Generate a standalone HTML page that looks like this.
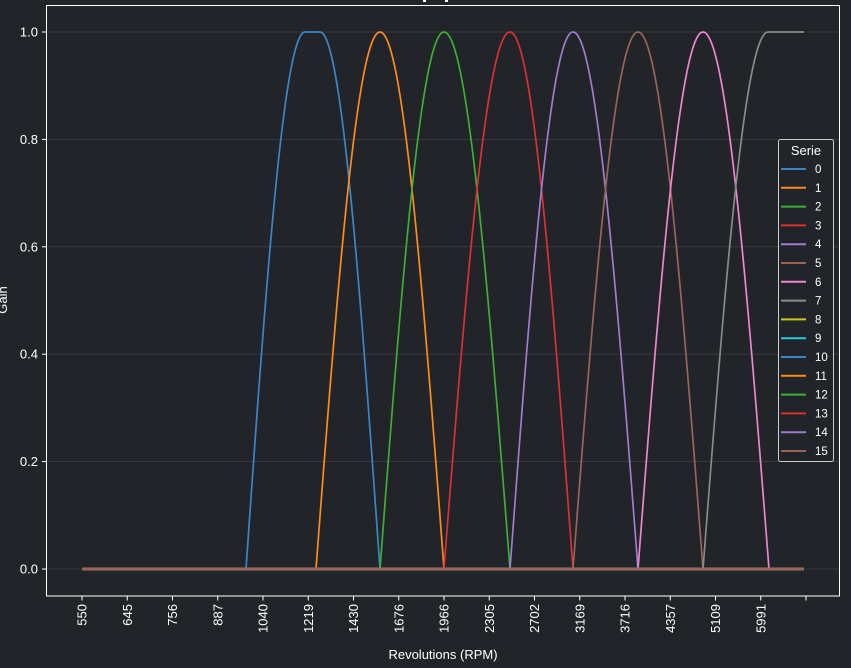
<!DOCTYPE html>
<html><head><meta charset="utf-8"><style>
html,body{margin:0;padding:0;background:#212429;}
svg{display:block;font-family:"Liberation Sans","DejaVu Sans",sans-serif;}
</style></head><body>
<svg id="s" width="851" height="668" xmlns="http://www.w3.org/2000/svg">
<rect width="851" height="668" fill="#212429"/>
<rect x="423" y="0" width="3" height="2" fill="#fff"/><rect x="445" y="0" width="3" height="2" fill="#fff"/>
<g id="grid" stroke="#3c3f44" stroke-width="0.8"></g>
<g id="curves" fill="none" stroke-width="1.7"></g>
<rect x="46.5" y="5.5" width="793" height="590.5" fill="none" stroke="#ffffff" stroke-width="1"/>
<g id="ticks" stroke="#ffffff" stroke-width="1"></g>
<g id="labels" fill="#ffffff" font-size="13"></g>
<text x="443" y="659" fill="#fff" font-size="13" text-anchor="middle">Revolutions (RPM)</text>
<text transform="translate(7,300) rotate(-90)" fill="#fff" font-size="13" text-anchor="middle">Gain</text>
<g id="legend"></g>
</svg>
<script>
const NS="http://www.w3.org/2000/svg";
function el(p,t,a,txt){const e=document.createElementNS(NS,t);for(const k in a)e.setAttribute(k,a[k]);if(txt!==undefined)e.textContent=txt;document.getElementById(p).appendChild(e);return e;}
const y0=569,y1=32;
const yv=v=>y0+(y1-y0)*v;
[0,0.2,0.4,0.6,0.8,1.0].forEach(v=>{const y=yv(v);el("grid","line",{x1:46.5,x2:839.5,y1:y,y2:y});
el("ticks","line",{x1:42,x2:46.5,y1:y,y2:y});
el("labels","text",{x:38,y:y+4.5,"text-anchor":"end"},v.toFixed(1));});
const xl=["550","645","756","887","1040","1219","1430","1676","1966","2305","2702","3169","3716","4357","5109","5991",""];
xl.forEach((t,i)=>{const x=82+i*45.25;el("ticks","line",{x1:x,x2:x,y1:596,y2:600.5});
if(t)el("labels","text",{transform:`translate(${x+4.5},604) rotate(-90)`,"text-anchor":"end"},t);});
const cols2=["#3a87c8","#ff8c1a","#3cb034","#dd3030","#a07cce","#9a6457","#ee85cf","#8a8a8a","#c8c926","#2ac8d8","#3a87c8","#ff8c1a","#3cb034","#dd3030","#a07cce","#9a6457"];
const segs=[[246,305,320,380],[316,380,380,444],[380,444,444,510],[444,510,510,573],[510,573,573,638],[573,638,638,703],[638,703,703,769],[703,768,804,804]];
segs.forEach((s,i)=>{let d="";const [a,b,c,e]=s;
for(let x=a;x<=e;x+=1){let v;if(x<=b)v=Math.sin(Math.PI/2*(x-a)/(b-a));else if(x<=c)v=1;else v=Math.cos(Math.PI/2*(x-c)/(e-c||1));
d+=(d?"L":"M")+x+","+yv(v).toFixed(2);}
if(i==7)d+="L804,"+yv(1);
el("curves","path",{d:d,stroke:cols2[i]});});
for(let i=0;i<16;i++){el("curves","line",{x1:82,x2:804,y1:y0,y2:y0,stroke:cols2[i],"stroke-width":2.2});}
el("legend","rect",{x:778.5,y:139.5,width:55,height:322,rx:2,fill:"#212429",stroke:"#cccccc","stroke-width":1});
el("legend","text",{x:806,y:155,fill:"#fff","font-size":13,"text-anchor":"middle"},"Serie");
for(let i=0;i<16;i++){const y=169+i*18.8;el("legend","line",{x1:781,x2:806,y1:y,y2:y,stroke:cols2[i],"stroke-width":2});
el("legend","text",{x:815,y:y+4,fill:"#fff","font-size":11.5},String(i));}
</script>
</body></html>
